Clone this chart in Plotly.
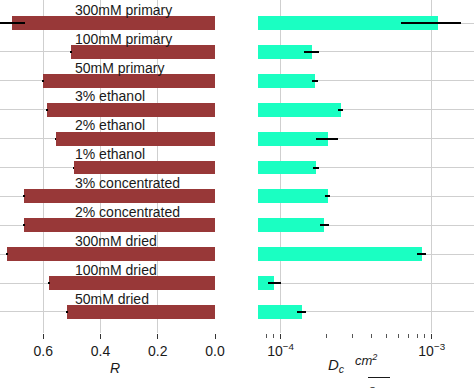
import plotly.graph_objects as go

categories = ["300mM primary", "100mM primary", "50mM primary", "3% ethanol",
              "2% ethanol", "1% ethanol", "3% concentrated", "2% concentrated",
              "300mM dried", "100mM dried", "50mM dried"]
R_values = [0.71, 0.504, 0.602, 0.587, 0.557, 0.494, 0.667, 0.667, 0.726, 0.579, 0.518]
R_errors = [0.045, 0.003, 0.003, 0.003, 0.003, 0.003, 0.003, 0.003, 0.003, 0.003, 0.003]
Dc_values = [1.10e-3, 1.62e-4, 1.69e-4, 2.49e-4, 2.05e-4, 1.72e-4, 2.05e-4, 1.95e-4,
             8.63e-4, 9.1e-5, 1.38e-4]
Dc_errors = [4.7e-4, 1.85e-5, 0.8e-5, 1.1e-5, 3.3e-5, 0.8e-5, 0.8e-5, 1.3e-5,
             5.8e-5, 0.9e-5, 1.0e-5]
R_ticks = [0.6, 0.4, 0.2, 0.0]
R_ticktext = ["0.6", "0.4", "0.2", "0.0"]
Dc_ticks = [1e-4, 1e-3]
Dc_ticktext = ["10<sup>−4</sup>", "10<sup>−3</sup>"]
Dc_minor = [8e-5, 9e-5, 2e-4, 3e-4, 4e-4, 5e-4, 6e-4, 7e-4, 8e-4, 9e-4]

W, H = 474, 388
PLOT_BOTTOM = 333
FONT = "Liberation Sans, Arial, sans-serif"
TXT = "#1a1a1a"
GRID = "#cfcfcf"
BROWN = "rgb(152,56,56)"
TURQ = "rgb(26,255,194)"

pos = list(range(len(categories)))

def px(x):
    return x / W

def py(y):
    return (PLOT_BOTTOM - y) / PLOT_BOTTOM

fig = go.Figure()
fig.add_trace(go.Bar(
    x=R_values, y=pos, orientation="h", width=0.48,
    marker=dict(color=BROWN, line=dict(width=0)),
    error_x=dict(type="data", array=R_errors, color="black", thickness=2, width=0),
    xaxis="x", yaxis="y", showlegend=False))
fig.add_trace(go.Bar(
    x=Dc_values, y=pos, orientation="h", width=0.48,
    marker=dict(color=TURQ, line=dict(width=0)),
    error_x=dict(type="data", array=Dc_errors, color="black", thickness=2, width=0),
    xaxis="x2", yaxis="y2", showlegend=False))

for i, c in enumerate(categories):
    fig.add_annotation(x=0.497, y=i - 0.46, xref="x", yref="y", text=c,
                       showarrow=False, xanchor="left", yanchor="middle",
                       font=dict(size=14, color=TXT, family=FONT))

# axis titles
fig.add_annotation(x=px(108), y=py(378), xref="paper", yref="paper",
                   text="<i>R</i>", showarrow=False,
                   font=dict(size=14, color=TXT, family=FONT))
fig.add_annotation(x=px(347), y=py(377), xref="paper", yref="paper",
                   text="<i>D<sub>c</sub></i>", showarrow=False,
                   font=dict(size=15, color=TXT, family=FONT))
fig.add_annotation(x=px(379), y=py(370), xref="paper", yref="paper",
                   text="<i>cm<sup>2</sup></i>", showarrow=False,
                   font=dict(size=13, color=TXT, family=FONT))
fig.add_annotation(x=px(378), y=py(380), xref="paper", yref="paper",
                   text="<i>s</i>", showarrow=False, yanchor="top",
                   font=dict(size=13, color=TXT, family=FONT))
fig.add_shape(type="line", xref="paper", yref="paper",
              x0=px(368), x1=px(390), y0=py(377.5), y1=py(377.5),
              line=dict(color=TXT, width=1))

yrange = [len(categories) - 1 + 0.73, -0.8]
common_y = dict(range=yrange, tickvals=pos, showticklabels=False, ticks="",
                showgrid=True, gridcolor=GRID, gridwidth=1, zeroline=False,
                showline=False)

fig.update_layout(
    width=W, height=H,
    margin=dict(l=0, r=0, t=0, b=H - PLOT_BOTTOM, pad=0, autoexpand=False),
    paper_bgcolor="white", plot_bgcolor="white",
    bargap=0,
    font=dict(family=FONT, color=TXT, size=14),
    xaxis=dict(domain=[0, px(215)], range=[0.751, 0.0], anchor="y",
               tickvals=R_ticks, ticktext=R_ticktext,
               ticks="outside", ticklen=5, tickcolor="#333", tickwidth=1,
               showgrid=True, gridcolor=GRID, gridwidth=1, zeroline=False,
               showline=False, tickfont=dict(size=14, color=TXT)),
    yaxis=dict(domain=[0, 1], anchor="x", **common_y),
    xaxis2=dict(domain=[px(258), 1], type="log", range=[-4.15, -2.72], anchor="y2",
                tickvals=Dc_ticks, ticktext=Dc_ticktext,
                ticks="outside", ticklen=5, tickcolor="#333", tickwidth=1,
                minor=dict(tickmode="array", tickvals=Dc_minor, ticks="outside",
                           ticklen=4, tickcolor="#555", tickwidth=1, showgrid=False),
                showgrid=True, gridcolor=GRID, gridwidth=1, zeroline=False,
                showline=False, tickfont=dict(size=14, color=TXT)),
    yaxis2=dict(domain=[0, 1], anchor="x2", **common_y),
)

fig.write_html("out.html", config={"displayModeBar": False},
               post_script="document.body.style.margin='0';document.body.style.overflow='hidden';")
